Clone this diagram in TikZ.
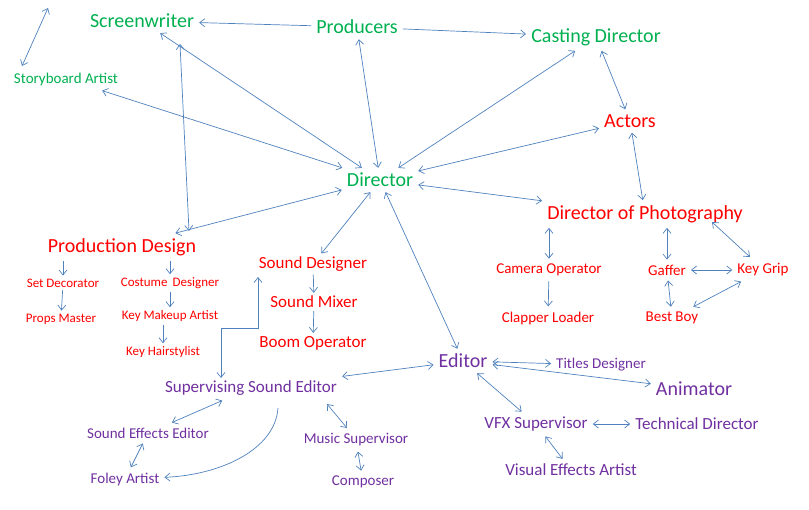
\documentclass[tikz,border=0pt]{standalone}
\usepackage{fontspec}
\setmainfont{Carlito}
\usetikzlibrary{arrows.meta}
\definecolor{cg}{RGB}{0,176,80}
\definecolor{cr}{RGB}{255,0,0}
\definecolor{cp}{RGB}{112,48,160}
\definecolor{ca}{RGB}{79,129,189}
\begin{document}
\begin{tikzpicture}[x=1pt,y=-1pt,
  lab/.style={inner sep=5pt,font=\fontsize{#1}{#1}\selectfont},
  g/.style={text=cg},r/.style={text=cr},p/.style={text=cp},
  aa/.style={draw=ca,line width=0.7pt,{Straight Barb[length=5pt,width=8pt]}-{Straight Barb[length=5pt,width=8pt]}},
  a1/.style={draw=ca,line width=0.7pt,-{Straight Barb[length=5pt,width=8pt]}}]
\useasboundingbox (0,0) rectangle (809,509);
\node[lab=20,g] (sw) at (142,21) {Screenwriter};
\node[lab=20,g] (pr) at (357,27) {Producers};
\node[lab=20,g] (cd) at (596,37) {Casting Director};
\node[lab=15,g] (sb) at (66,79) {Storyboard Artist};
\node[lab=20,g] (di) at (380,180) {Director};
\node[lab=20,r] (ac) at (630,121) {Actors};
\node[lab=20,r] (dp) at (645,214) {Director of Photography};
\node[lab=20,r] (pd) at (122,247) {Production Design};
\node[lab=13,r,inner sep=3pt] (sd) at (63,283) {Set Decorator};
\node[lab=13,r,inner sep=3pt] (co) at (170,283) {Costume\, Designer};
\node[lab=13,r,inner sep=3pt] (pm) at (61,319) {Props Master};
\node[lab=13,r,inner sep=3pt] (km) at (170,316) {Key Makeup Artist};
\node[lab=13,r,inner sep=3pt] (kh) at (163,352) {Key Hairstylist};
\node[lab=17,r,inner sep=3pt] (sdes) at (313,264) {Sound Designer};
\node[lab=17,r,inner sep=3pt] (sm) at (314,302) {Sound Mixer};
\node[lab=17,r,inner sep=3pt] (bo) at (313,343) {Boom Operator};
\node[lab=15,r] (cam) at (549,270) {Camera Operator};
\node[lab=15,r] (cl) at (548,318) {Clapper Loader};
\node[lab=15,r] (ga) at (667,270) {Gaffer};
\node[lab=15,r] (kg) at (763,270) {Key Grip};
\node[lab=15,r] (bb) at (672,318) {Best Boy};
\node[lab=20,p] (ed) at (463,361) {Editor};
\node[lab=15,p] (td) at (601,365) {Titles Designer};
\node[lab=20,p] (an) at (694,389) {Animator};
\node[lab=17,p] (vfx) at (536,424) {VFX Supervisor};
\node[lab=17,p] (tech) at (697,424) {Technical Director};
\node[lab=17,p] (vea) at (571,470) {Visual Effects Artist};
\node[lab=17,p] (sse) at (251,388) {Supervising Sound Editor};
\node[lab=15,p] (see) at (148,433) {Sound Effects Editor};
\node[lab=15,p] (ms) at (356,440) {Music Supervisor};
\node[lab=15,p] (fa) at (125,479) {Foley Artist};
\node[lab=15,p] (cmp) at (363,482) {Composer};
\coordinate (e1) at (221,378);\coordinate (e2) at (221,328);
\coordinate (e3) at (258,328);\coordinate (e4) at (258,277);
\coordinate (c1) at (278,408);
\coordinate (swb) at (180,44);\coordinate (pdt) at (189,231);
\coordinate (sbt) at (22,66);\coordinate (swl) at (48,8);
\coordinate (dpk) at (712,222);\coordinate (kgt) at (750,257);
\coordinate (sseb) at (327,404);\coordinate (mst) at (347,428);
\draw[a1] (pr) -- (sw);
\draw[a1] (pr) -- (cd);
\draw[aa] (sbt) -- (swl);
\draw[aa] (sw) -- (di);
\draw[aa] (sb) -- (di);
\draw[aa] (pr) -- (di);
\draw[aa] (cd) -- (di);
\draw[aa] (cd) -- (ac);
\draw[aa] (ac) -- (di);
\draw[aa] (ac) -- (dp);
\draw[aa] (swb) -- (pdt);
\draw[aa] (di) -- (pd);
\draw[aa] (di) -- (sdes);
\draw[aa] (di) -- (ed);
\draw[aa] (di) -- (dp);
\draw[a1] (pd.south -| sd) -- (sd);
\draw[a1] (pd.south -| co) -- (co);
\draw[a1] (sd) -- (pm);
\draw[a1] (co) -- (km);
\draw[a1] (km.south -| kh) -- (kh);
\draw[a1] (sdes) -- (sm);
\draw[a1] (sm) -- (bo);
\draw[aa] (dp.south -| cam) -- (cam);
\draw[a1] (cam) -- (cl);
\draw[aa] (dp.south -| ga) -- (ga);
\draw[aa] (ga) -- (bb);
\draw[aa] (ga) -- (kg);
\draw[aa] (dpk) -- (kgt);
\draw[aa] (kg) -- (bb);
\draw[aa] (ed) -- (td);
\draw[aa] (ed) -- (an);
\draw[aa] (ed) -- (vfx);
\draw[aa] (vfx) -- (tech);
\draw[aa] (vfx) -- (vea);
\draw[aa] (ed) -- (sse);
\draw[aa] (sse) -- (see);
\draw[aa] (see) -- (fa);
\draw[aa] (sseb) -- (mst);
\draw[aa] (ms) -- (cmp);
\draw[aa] (e1) -- (e2) -- (e3) -- (e4);
\draw[a1] (c1) .. controls (275,450) and (220,475) .. (fa);
\end{tikzpicture}
\end{document}
